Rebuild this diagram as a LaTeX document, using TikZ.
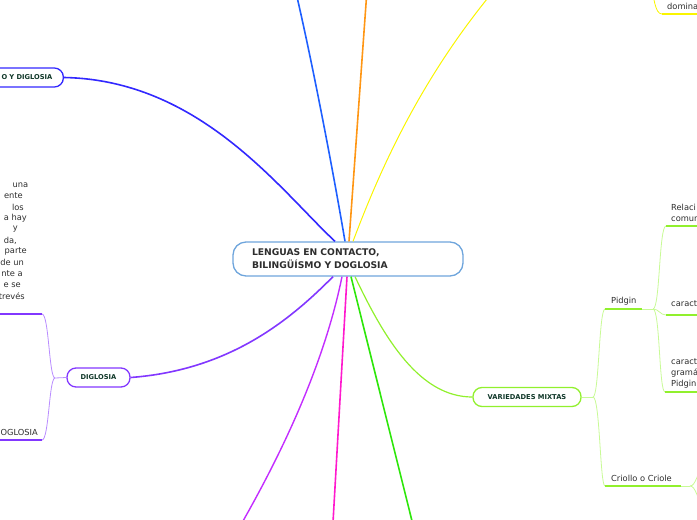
\documentclass[tikz,border=0pt]{standalone}
\usepackage{fontspec}
\setmainfont{DejaVu Sans}
\usetikzlibrary{calc, positioning}
\definecolor{CentroAzul}{RGB}{110, 165, 220}
\definecolor{RamaIndigo}{RGB}{50, 40, 255}
\definecolor{RamaAzul}{RGB}{30, 95, 255}
\definecolor{RamaNaranja}{RGB}{255, 150, 20}
\definecolor{RamaAmarilla}{RGB}{250, 245, 0}
\definecolor{RamaMorada}{RGB}{130, 55, 255}
\definecolor{MoradoClaro}{RGB}{185, 140, 255}
\definecolor{RamaVioleta}{RGB}{195, 45, 255}
\definecolor{RamaRosa}{RGB}{255, 25, 205}
\definecolor{RamaVerde}{RGB}{45, 230, 10}
\definecolor{RamaLima}{RGB}{145, 240, 45}
\definecolor{LimaClaro}{RGB}{200, 250, 150}
\definecolor{TextoVerde}{RGB}{15, 55, 40}
\definecolor{TextoGris}{RGB}{45, 45, 45}

\tikzset{
  centro/.style={draw=CentroAzul, line width=1.3pt, rounded corners=13pt, minimum height=34pt,
    text width=192pt, inner xsep=19pt, align=left, text=TextoGris,
    font=\bfseries\fontsize{9.2}{13}\selectfont},
  tema/.style={draw=#1, line width=1.3pt, rounded corners=9pt, minimum height=19pt, inner xsep=11pt,
    inner ysep=0pt, text=TextoVerde, font=\bfseries\fontsize{6.7}{8}\selectfont},
  hoja/.style={inner sep=0pt, align=left, text=TextoGris, font=\fontsize{8.3}{11.1}\selectfont},
  rama/.style={line width=1.6pt},
  subraya/.style={line width=2pt},
  fina/.style={line width=0.8pt}
}

\begin{document}
\begin{tikzpicture}[x=1pt, y=-1pt]
    \useasboundingbox (0,0) rectangle (697,520);
    \begin{scope}
    \clip (0,0) rectangle (697,520);

    % Nodo central
    \node[centro] (centro) at (348,259) {LENGUAS EN CONTACTO,\\BILINGÜÍSMO Y DOGLOSIA};

    % Temas
    \node[tema=RamaIndigo, anchor=east, text width=108pt, align=right] (bilingue) at (64,77.5) {O Y DIGLOSIA};
    \node[tema=RamaMorada, minimum width=63pt] (diglosia) at (98.5,377.5) {DIGLOSIA};
    \node[tema=RamaLima, minimum width=108pt] (mixtas) at (527,397) {VARIEDADES MIXTAS};

    % Puntos fuera del cuadro
    \coordinate (finAzul) at (293,-20);
    \coordinate (finNaranja) at (367,-10);
    \coordinate (finAmarilla) at (540,-60);
    \coordinate (finVioleta) at (232,540);
    \coordinate (finRosa) at (332,540);
    \coordinate (finVerde) at (418,545);

    % Ramas de arriba
    \draw[rama, RamaIndigo] (bilingue.east) .. controls (200,80) and (280,190) .. ($(centro.north)+(-13,0)$);
    \draw[rama, RamaAzul] ($(centro.north)+(-3,0)$) .. controls (333,170) and (310,50) .. (finAzul);
    \draw[rama, RamaNaranja] ($(centro.north)+(1,0)$) -- (finNaranja);
    \draw[line width=1pt, RamaAmarilla] ($(centro.north)+(5,0)$) .. controls (380,170) and (430,50) .. (finAmarilla);

    % Ramas de abajo
    \draw[rama, RamaMorada] (diglosia.east) .. controls (230,370) and (290,320) .. ($(centro.south)+(-15,0)$);
    \draw[line width=1.4pt, RamaVioleta] ($(centro.south)+(-6,0)$) .. controls (325,360) and (285,450) .. (finVioleta);
    \draw[rama, RamaRosa] ($(centro.south)+(-1,0)$) -- (finRosa);
    \draw[rama, RamaVerde] ($(centro.south)+(3,0)$) -- (finVerde);
    \draw[line width=1.2pt, RamaLima] ($(centro.south)+(7,0)$) .. controls (385,340) and (420,397) .. (mixtas.west);

    % Diglosia
    \foreach \xr/\txt [count=\i from 0] in {28.5/una, 23/ente, 24/los, 27/a hay, 18/y, 17/{da,},
        27/parte, 24/de un, 23/nte a, 21/e se, 25/trevés}
      \node[hoja, anchor=east] (def\i) at (\xr, 185+11.1*\i) {\txt};
    \node[hoja, anchor=east] (diglosiaB) at (38,432) {OGLOSIA};
    \coordinate (djun) at (55,378);
    \coordinate (defA) at (-5,314);
    \coordinate (defB) at (42,314);
    \coordinate (digA) at (-5,440);
    \coordinate (digB) at (42,440);
    \draw[fina, MoradoClaro] (diglosia.west) -- (djun);
    \draw[fina, MoradoClaro] (djun) .. controls (49,378) and (49,314) .. (defB);
    \draw[fina, MoradoClaro] (djun) .. controls (49,378) and (49,440) .. (digB);
    \draw[subraya, RamaMorada] (defA) -- (defB);
    \draw[subraya, RamaMorada] (digA) -- (digB);

    % Variedades mixtas
    \node[hoja, anchor=west] (pidgin) at (611,301) {Pidgin};
    \node[hoja, anchor=west] (criollo) at (611,478) {Criollo o Criole};
    \node[hoja, anchor=west] (relacion) at (671,212.5) {Relaci\\comun};
    \node[hoja, anchor=west] (caract) at (671,304) {caract};
    \node[hoja, anchor=west] (gramatica) at (671,373.5) {caract\\gramá\\Pidgin};
    \coordinate (vjun) at (593,397);
    \coordinate (pidA) at (605,309);
    \coordinate (pidB) at (642,309);
    \coordinate (pjun) at (653,309);
    \coordinate (criA) at (605,486);
    \coordinate (criB) at (681,486);
    \coordinate (cjun) at (690,486);
    \coordinate (relA) at (666,226);
    \coordinate (carA) at (666,315);
    \coordinate (graA) at (665,392);
    \draw[fina, LimaClaro] (mixtas.east) -- (vjun);
    \draw[fina, LimaClaro] (vjun) .. controls (599,397) and (599,309) .. (pidA);
    \draw[fina, LimaClaro] (vjun) .. controls (600,397) and (600,486) .. (criA);
    \draw[subraya, RamaLima] (pidA) -- (pidB);
    \draw[subraya, RamaLima] (criA) -- (criB);
    \draw[fina, LimaClaro] (pidB) -- (pjun);
    \draw[fina, LimaClaro] (pjun) .. controls (660,309) and (659,226) .. (relA);
    \draw[fina, LimaClaro] (pjun) .. controls (659,309) and (660,315) .. (carA);
    \draw[fina, LimaClaro] (pjun) .. controls (660,309) and (659,392) .. (graA);
    \draw[subraya, RamaLima] (relA) -- (705,226);
    \draw[subraya, RamaLima] (carA) -- (705,315);
    \draw[subraya, RamaLima] (graA) -- (705,392);
    \draw[fina, LimaClaro] (criB) -- (cjun);
    \draw[fina, LimaClaro] (cjun) .. controls (696,486) and (697,472) .. (704,466);
    \draw[fina, LimaClaro] (cjun) .. controls (696,486) and (697,500) .. (704,506);

    % Dominio (arriba a la derecha)
    \node[hoja, anchor=west] (domina) at (667,6) {domina};
    \coordinate (domPadre) at (650,-20);
    \coordinate (domA) at (662,14);
    \draw[fina, RamaAmarilla] (domPadre) .. controls (654,-2) and (655,14) .. (domA);
    \draw[subraya, RamaAmarilla] (domA) -- (705,14);
    \end{scope}
\end{tikzpicture}
\end{document}
